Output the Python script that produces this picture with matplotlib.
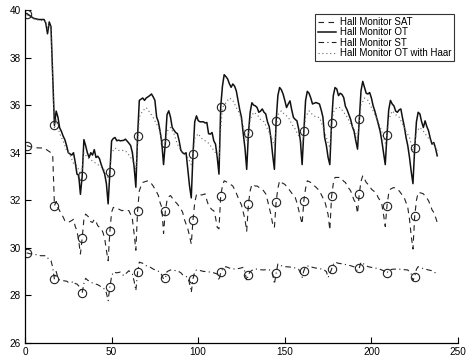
import matplotlib
matplotlib.use("Agg")
import matplotlib.pyplot as plt

plt.rcParams['font.family'] = ['Liberation Sans', 'DejaVu Sans']

# ---- data (frame number, PSNR in dB) ----
ot_x = [1, 3, 5, 8, 11, 12, 13, 14, 15, 16, 17, 18, 19, 20, 21, 22, 23, 24, 25, 27, 28, 29, 30, 31, 32,
        33, 34, 35, 36, 37, 38, 39, 40, 41, 42, 43, 44, 45, 46, 47, 48,
        49, 50, 51, 52, 53, 54, 55, 57, 58, 60, 61, 62, 63, 64,
        65, 66, 67, 68, 69, 70, 72, 73, 74, 75, 76, 77, 78, 79, 80,
        81, 82, 83, 84, 85, 86, 87, 88, 89, 90, 91, 92, 93, 94, 95, 96,
        97, 98, 99, 100, 101, 103, 104, 105, 106, 107, 108, 109, 110, 111, 112,
        113, 114, 115, 116, 117, 118, 119, 120, 121, 122, 123, 124, 125, 126, 127, 128,
        129, 130, 131, 132, 133, 134, 135, 136, 137, 138, 139, 140, 141, 142, 143, 144,
        145, 146, 147, 148, 149, 150, 151, 152, 153, 154, 155, 156, 157, 158, 159, 160,
        161, 162, 163, 164, 165, 166, 167, 168, 169, 170, 171, 172, 173, 174, 175, 176,
        177, 178, 179, 180, 181, 182, 183, 184, 185, 186, 187, 188, 189, 190, 191, 192,
        193, 194, 195, 196, 197, 198, 199, 200, 201, 202, 203, 204, 205, 206, 207, 208,
        209, 210, 211, 212, 213, 214, 215, 216, 217, 218, 219, 220, 221, 222, 223, 224,
        225, 226, 227, 228, 229, 230, 231, 232, 233, 234, 235, 236, 237, 238]
ot_y = [39.85, 39.75, 39.65, 39.6, 39.6, 39.45, 39.0, 39.5, 39.3, 37.2, 35.15, 35.75, 35.5, 35.05, 34.9, 34.7, 34.55, 34.3, 34.0, 33.9, 34.0, 33.6, 33.1, 33.05, 32.25,
        33.0, 34.55, 34.3, 34.0, 33.8, 34.0, 33.9, 34.13, 33.8, 33.85, 33.75, 33.5, 33.3, 33.1, 32.7, 31.85,
        33.17, 34.5, 34.6, 34.64, 34.5, 34.53, 34.5, 34.52, 34.57, 34.4, 34.3, 34.0, 33.4, 32.55,
        34.7, 36.2, 36.25, 36.3, 36.2, 36.3, 36.4, 36.47, 36.35, 36.2, 35.5, 35.3, 34.9, 34.4, 33.5,
        34.4, 35.6, 35.76, 35.5, 35.06, 34.95, 34.85, 34.8, 34.5, 34.1, 34.0, 33.95, 34.0, 33.3, 32.6, 32.1,
        33.95, 35.3, 35.55, 35.35, 35.3, 35.3, 35.25, 35.27, 34.8, 34.78, 34.85, 34.5, 34.36, 33.8, 33.1,
        35.93, 36.8, 37.28, 37.2, 37.1, 36.9, 36.75, 36.89, 36.8, 36.6, 36.2, 35.8, 35.48, 34.8, 34.2, 33.3,
        34.81, 35.7, 36.1, 36.0, 35.97, 35.9, 35.7, 35.75, 35.84, 35.7, 35.63, 35.3, 35.1, 34.6, 33.9, 33.3,
        35.34, 36.4, 36.74, 36.65, 36.47, 36.2, 35.9, 36.05, 36.18, 35.8, 35.48, 35.4, 35.34, 35.0, 34.5, 33.5,
        34.9, 36.2, 36.58, 36.5, 36.3, 36.05, 36.08, 36.11, 36.08, 36.05, 35.8, 35.5, 34.64, 34.3, 33.8, 33.5,
        35.27, 36.4, 36.74, 36.68, 36.4, 36.5, 36.45, 36.32, 35.95, 35.8, 35.6, 35.4, 35.1, 34.9, 34.5, 34.15,
        35.41, 36.6, 37.0, 36.75, 36.5, 36.47, 36.53, 36.3, 35.97, 35.75, 35.48, 35.2, 34.92, 34.5, 34.0, 33.5,
        34.76, 35.8, 36.2, 36.05, 35.97, 35.75, 35.7, 35.8, 35.84, 35.45, 35.1, 34.64, 34.3, 33.8, 33.2, 32.7,
        34.2, 35.3, 35.7, 35.63, 35.3, 35.06, 35.34, 35.1, 34.92, 34.6, 34.36, 34.43, 34.2, 33.87]

haar_x = [1, 3, 6, 10, 12, 13, 14, 15, 16, 17,
          18, 20, 22, 24, 26, 28, 30, 32,
          33, 34, 36, 38, 40, 42, 44, 46, 48,
          49, 50, 52, 54, 56, 58, 60, 62, 64,
          65, 66, 68, 70, 72, 74, 76, 78, 80,
          81, 82, 84, 86, 88, 90, 92, 94, 96,
          97, 98, 100, 102, 104, 106, 108, 110, 112,
          113, 114, 116, 118, 120, 122, 124, 126, 128,
          129, 130, 132, 134, 136, 138, 140, 142, 144,
          145, 146, 148, 150, 152, 154, 156, 158, 160,
          161, 162, 164, 166, 168, 170, 172, 174, 176,
          177, 178, 180, 182, 184, 186, 188, 190, 192,
          193, 194, 196, 198, 200, 202, 204, 206, 208,
          209, 210, 212, 214, 216, 218, 220, 222, 224,
          225, 226, 228, 230, 232, 234, 236, 238]
haar_y = [39.8, 39.7, 39.6, 39.55, 39.5, 39.2, 39.4, 39.2, 37.0, 35.0,
          35.4, 34.8, 34.5, 34.1, 33.9, 33.55, 33.45, 33.1,
          33.3, 34.0, 33.8, 33.7, 33.6, 33.5, 33.4, 33.25, 32.9,
          33.3, 34.0, 34.2, 34.1, 34.1, 34.08, 33.9, 33.7, 33.3,
          34.3, 35.5, 35.76, 35.9, 35.7, 35.48, 35.2, 34.92, 34.2,
          34.3, 34.9, 35.06, 34.8, 34.36, 34.1, 33.95, 33.8, 33.5,
          33.9, 34.6, 34.8, 34.6, 34.5, 34.4, 34.2, 34.0, 33.7,
          35.0, 35.9, 36.1, 36.3, 36.2, 35.9, 35.63, 35.1, 34.5,
          34.7, 35.4, 35.7, 35.6, 35.4, 35.3, 35.0, 34.7, 34.3,
          35.0, 35.6, 35.76, 35.6, 35.5, 35.2, 35.0, 34.7, 34.3,
          34.8, 35.5, 35.76, 35.6, 35.5, 35.48, 35.1, 34.64, 34.2,
          35.0, 35.7, 35.9, 35.9, 35.7, 35.5, 35.2, 35.0, 34.6,
          35.3, 36.0, 36.3, 36.2, 35.9, 35.6, 35.3, 34.9, 34.4,
          34.7, 35.4, 35.76, 35.6, 35.5, 35.2, 34.9, 34.64, 34.1,
          34.3, 34.9, 35.06, 34.9, 34.7, 34.5, 34.36, 34.08]

sat_x = [1, 3, 5, 8, 11, 13, 15, 16, 17, 18, 19, 20, 22, 23, 25, 27, 28, 29, 30, 31, 32,
         33, 34, 35, 36, 37, 38, 39, 40, 41, 42, 44, 45, 46, 47, 48,
         49, 50, 51, 53, 55, 56, 58, 60, 61, 62, 63, 64,
         65, 66, 67, 68, 70, 71, 73, 74, 76, 77, 78, 79, 80,
         81, 82, 83, 84, 85, 86, 88, 90, 91, 92, 93, 94, 95, 96,
         97, 98, 99, 100, 102, 104, 105, 106, 108, 109, 110, 111, 112,
         113, 114, 115, 117, 119, 120, 122, 123, 125, 126, 127, 128,
         129, 130, 131, 133, 134, 136, 137, 139, 140, 141, 142, 143, 144,
         145, 146, 147, 148, 150, 152, 153, 155, 156, 157, 158, 159, 160,
         161, 162, 163, 165, 166, 168, 170, 172, 173, 174, 175, 176,
         177, 178, 179, 180, 182, 184, 185, 186, 188, 189, 190, 191, 192,
         193, 194, 195, 196, 197, 199, 200, 202, 203, 204, 205, 206, 207, 208,
         209, 210, 211, 213, 215, 216, 218, 219, 220, 221, 222, 223, 224,
         225, 226, 227, 229, 230, 232, 233, 234, 235, 236, 237, 238]
sat_y = [34.3, 34.25, 34.22, 34.2, 34.2, 34.1, 34.0, 33.9, 31.77, 31.95, 31.7, 31.56, 31.3, 31.14, 31.07, 31.15, 31.2, 30.9, 30.72, 30.3, 29.74,
         30.4, 31.2, 31.42, 31.35, 31.28, 31.1, 31.07, 31.2, 31.1, 30.93, 30.8, 30.65, 30.4, 29.9, 29.46,
         30.7, 31.5, 31.7, 31.67, 31.6, 31.56, 31.6, 31.56, 31.4, 31.2, 30.6, 29.9,
         31.56, 32.4, 32.6, 32.75, 32.8, 32.82, 32.7, 32.6, 32.35, 32.2, 31.9, 31.7, 30.6,
         31.53, 32.0, 32.15, 32.2, 32.1, 32.0, 31.84, 31.63, 31.5, 31.2, 31.0, 30.8, 30.5, 30.16,
         31.18, 31.9, 32.24, 32.27, 32.22, 32.27, 32.0, 31.77, 31.6, 31.56, 31.28, 30.86, 30.8,
         32.2, 32.6, 32.82, 32.75, 32.65, 32.6, 32.3, 32.12, 31.8, 31.5, 31.2, 30.7,
         31.84, 32.4, 32.67, 32.6, 32.6, 32.5, 32.47, 32.27, 32.0, 31.7, 31.4, 31.0, 30.85,
         31.94, 32.5, 32.82, 32.75, 32.67, 32.5, 32.4, 32.2, 32.12, 31.9, 31.6, 31.3, 31.0,
         31.98, 32.5, 32.82, 32.75, 32.67, 32.55, 32.4, 32.1, 31.98, 31.7, 31.4, 30.75,
         32.16, 32.7, 32.96, 32.96, 32.96, 32.8, 32.75, 32.6, 32.4, 32.2, 32.0, 31.9, 31.45,
         32.27, 32.8, 33.03, 32.9, 32.75, 32.6, 32.47, 32.35, 32.27, 32.1, 32.0, 31.84, 31.4, 30.9,
         31.77, 32.3, 32.47, 32.54, 32.42, 32.4, 32.2, 32.1, 31.9, 31.7, 31.2, 30.5, 29.95,
         31.32, 32.0, 32.33, 32.3, 32.27, 32.1, 31.98, 31.8, 31.6, 31.49, 31.3, 31.07]

st_x = [1, 3, 5, 7, 9, 12, 14, 15, 16, 17, 18, 19, 20, 22, 24, 25, 27, 28, 29, 30, 31, 32,
        33, 34, 35, 36, 38, 40, 42, 43, 45, 46, 47, 48,
        49, 50, 51, 53, 55, 57, 58, 60, 61, 62, 63, 64,
        65, 66, 68, 70, 72, 74, 76, 78, 79, 80,
        81, 82, 84, 86, 88, 90, 91, 93, 94, 95, 96,
        97, 98, 99, 101, 103, 105, 107, 109, 111, 112,
        113, 114, 116, 118, 120, 122, 124, 126, 127, 128,
        129, 130, 132, 134, 136, 138, 140, 142, 143, 144,
        145, 146, 148, 150, 152, 155, 157, 158, 159, 160,
        161, 162, 164, 166, 168, 170, 172, 174, 175, 176,
        177, 178, 179, 181, 184, 186, 188, 190, 191, 192,
        193, 194, 196, 198, 200, 203, 205, 207, 208,
        209, 210, 212, 215, 218, 221, 223, 224,
        225, 226, 227, 229, 231, 233, 235, 237, 238]
st_y = [29.79, 29.75, 29.74, 29.7, 29.67, 29.67, 29.5, 29.46, 29.18, 28.67, 29.0, 28.75, 28.65, 28.62, 28.6, 28.55, 28.55, 28.6, 28.5, 28.48, 28.4, 28.27,
        28.1, 28.5, 28.72, 28.65, 28.55, 28.5, 28.45, 28.41, 28.3, 28.27, 28.1, 27.78,
        28.37, 28.8, 28.98, 28.95, 28.98, 28.83, 28.9, 29.04, 28.95, 28.9, 28.6, 28.2,
        28.98, 29.4, 29.35, 29.25, 29.2, 29.11, 29.05, 28.98, 28.85, 28.69,
        28.73, 29.0, 29.07, 29.05, 29.04, 28.95, 28.87, 28.8, 28.76, 28.5, 28.13,
        28.7, 29.0, 29.07, 29.05, 29.01, 29.0, 28.98, 28.95, 28.9, 28.62,
        28.97, 29.1, 29.21, 29.15, 29.11, 29.12, 29.14, 29.18, 29.0, 28.62,
        28.87, 29.0, 29.1, 29.11, 29.08, 29.07, 29.1, 29.05, 28.9, 28.48,
        28.93, 29.32, 29.25, 29.21, 29.2, 29.18, 29.12, 29.1, 28.95, 28.76,
        29.04, 29.2, 29.25, 29.18, 29.15, 29.12, 29.11, 29.0, 28.76, 28.9,
        29.11, 29.3, 29.4, 29.35, 29.32, 29.28, 29.25, 29.2, 29.1, 29.04,
        29.16, 29.4, 29.3, 29.21, 29.18, 29.14, 29.1, 29.04, 28.95,
        28.95, 29.05, 29.1, 29.11, 29.09, 29.07, 28.9, 28.62,
        28.79, 29.1, 29.21, 29.15, 29.11, 29.07, 29.04, 28.95, 28.9]

labels = ["Hall Monitor SAT", "Hall Monitor OT", "Hall Monitor ST", "Hall Monitor OT with Haar"]
x_ticks = [0, 50, 100, 150, 200, 250]
y_ticks = [26, 28, 30, 32, 34, 36, 38, 40]
gop = 16  # circles mark every 16th frame, starting at frame 1


def mark_idx(xs):
    return [i for i, f in enumerate(xs) if (f - 1) % gop == 0]


fig = plt.figure(figsize=(4.74, 3.63), dpi=100)
ax = fig.add_axes([25 / 474, 20 / 363, 433 / 474, 333 / 363])

l_sat, = ax.plot(sat_x, sat_y, color='#222222', lw=0.8, ls=(0, (5, 4)), label=labels[0])
l_ot, = ax.plot(ot_x, ot_y, color='#111111', lw=1.1, ls='-', label=labels[1])
l_st, = ax.plot(st_x, st_y, color='#222222', lw=0.8, ls=(0, (5, 3, 1, 3)), label=labels[2])
l_haar, = ax.plot(haar_x, haar_y, color='#666666', lw=0.8, ls=(0, (1, 2.5)), label=labels[3])

for xs, ys in [(sat_x, sat_y), (ot_x, ot_y), (st_x, st_y)]:
    ax.plot(xs, ys, ls='none', marker='o', ms=6, mfc='none', mec='#222222', mew=0.8,
            markevery=mark_idx(xs))

ax.set_xlim(0, 250)
ax.set_ylim(26, 40)
ax.set_xticks(x_ticks)
ax.set_yticks(y_ticks)
ax.tick_params(direction='in', length=4, width=0.8, labelsize=7.2, pad=3, colors='black')
for s in ['top', 'right']:
    ax.spines[s].set_visible(False)
for s in ['left', 'bottom']:
    ax.spines[s].set_linewidth(0.9)

leg = ax.legend(handles=[l_sat, l_ot, l_st, l_haar], loc='upper right',
                bbox_to_anchor=(0.991, 0.988), borderaxespad=0, fontsize=7,
                frameon=True, fancybox=False, handlelength=1.8, handletextpad=0.4,
                labelspacing=0.05, borderpad=0.3)
leg.get_frame().set_edgecolor('black')
leg.get_frame().set_linewidth(0.8)

fig.savefig('out.png', dpi=100)
